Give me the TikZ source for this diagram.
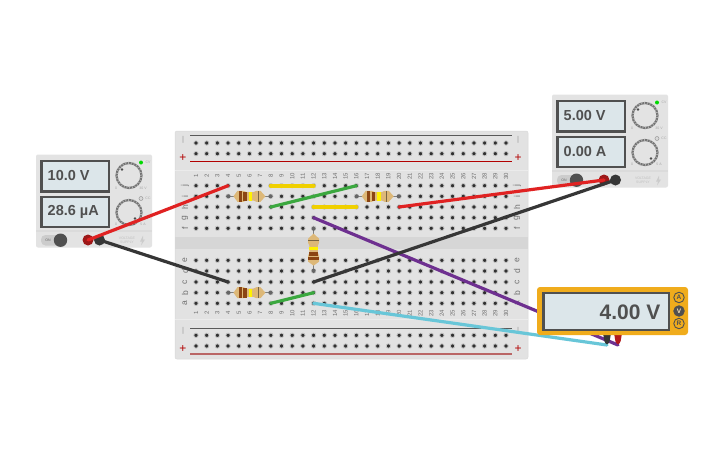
\documentclass[tikz,border=0pt]{standalone}
\usepackage{fontspec}
\setmainfont{Liberation Sans}
\usetikzlibrary{calc}
\definecolor{boardc}{HTML}{E2E2E2}
\definecolor{bandc}{HTML}{D6D6D6}
\definecolor{holec}{HTML}{303030}
\definecolor{labelc}{HTML}{707070}
\definecolor{psuc}{HTML}{E3E3E3}
\definecolor{lcdc}{HTML}{DCE6EA}
\definecolor{lcdb}{HTML}{505050}
\definecolor{wred}{HTML}{E02222}
\definecolor{wblack}{HTML}{363636}
\definecolor{wgreen}{HTML}{3BA83F}
\definecolor{wyellow}{HTML}{F0D000}
\definecolor{wpurple}{HTML}{6E3090}
\definecolor{wcyan}{HTML}{68C6D8}
\definecolor{orng}{HTML}{F0AC1C}
\definecolor{rbody}{HTML}{DDB878}
\definecolor{rbrown}{HTML}{8B4513}
\tikzset{
  x=1pt,y=-1pt,
  wire/.style={line width=3.2pt,line cap=round},
  lcd/.style={draw=lcdb,fill=lcdc,line width=2.6pt},
  lcdtext/.style={font=\fontsize{14.5}{15}\selectfont\bfseries,text=lcdb,inner sep=0pt},
  tiny/.style={font=\fontsize{3.5}{4}\selectfont,text=black!35,inner sep=0pt},
  collab/.style={font=\fontsize{6}{6}\selectfont,text=labelc,rotate=90,inner sep=0pt},
  rowlab/.style={font=\fontsize{8.5}{8}\selectfont,text=labelc,rotate=90,inner sep=0pt},
  pm/.style={font=\fontsize{12}{12}\selectfont,inner sep=0pt},
  hole/.style={fill=holec,draw=black!22,line width=0.8pt},
  knob/.style={fill=black!11,draw=black!55,line width=2.2pt},
  ticks/.style={draw=black!30,line width=2.2pt,dash pattern=on 0.8pt off 2pt},
  meterbtn/.style={circle,draw=lcdb,line width=0.9pt,minimum size=10.5pt,inner sep=0pt,font=\fontsize{6.5}{6}\selectfont\bfseries,text=lcdb},
  pics/resistor/.style={code={
    \draw[black!50,line width=1.5pt] (-21,0) -- (21,0);
    \fill[black!60] (-21,0) circle (2pt) (21,0) circle (2pt);
    \fill[rbody] (-16,0) -- (-12,-5.5) -- (-6,-5.5) -- (-3,-4.2) -- (4,-4.2) -- (7,-5.5) -- (11,-5.5) -- (16,0) -- (11,5.5) -- (7,5.5) -- (4,4.2) -- (-3,4.2) -- (-6,5.5) -- (-12,5.5) -- cycle;
    \fill[rbrown] (-10.8,-5.5) rectangle (-7.8,5.5);
    \fill[rbrown] (-6,-4.8) rectangle (-2.8,4.8);
    \fill[yellow] (-0.5,-4.2) rectangle (3,4.2);
    \fill[black!45!rbody] (8.2,-5.5) rectangle (9.2,5.5);
  }},
  pics/psu/.style 2 args={code={
    \fill[psuc,rounded corners=2pt] (0,0) rectangle (116,93);
    \fill[black!14] (0,75.5) rectangle (116,77);
    \draw[lcd] (5.5,6.5) rectangle (73,37);
    \draw[lcd] (5.5,42.5) rectangle (73,72.5);
    \node[lcdtext,anchor=west] at (11.5,21.5) {#1};
    \node[lcdtext,anchor=west] at (11.5,57.5) {#2};
    \draw[knob] (93,21) circle (12.5pt);
    \draw[knob] (93,58) circle (12.5pt);
    \draw[ticks] (93,21) circle (12.5pt);
    \draw[ticks] (93,58) circle (12.5pt);
    \fill[black!70] (86,15) circle (1.4pt) (99,64) circle (1.4pt);
    \fill[green!85!black] (105,8) circle (2pt);
    \draw[black!40,fill=black!15,line width=0.5pt] (105,44) circle (2pt);
    \node[tiny] at (112,8) {CV};
    \node[tiny] at (112,44) {CC};
    \node[tiny] at (80,33.5) {0};
    \node[tiny] at (107,33.5) {30 V};
    \node[tiny] at (80,70) {0};
    \node[tiny] at (107,70) {5 A};
    \fill[black!20,rounded corners=4.5pt] (5,80.5) rectangle (30,91);
    \node[tiny,text=black!60] at (12,86) {ON};
    \fill[lcdb] (24.5,85.7) circle (6.7pt);
    \node[circle,fill=wred!70!black,minimum size=11pt,inner sep=0pt] (red) at (52,85.5) {};
    \node[circle,fill=wblack,minimum size=11pt,inner sep=0pt] (blk) at (63.5,85.5) {};
    \node[tiny,text=black!25,align=center] at (91,86) {VOLTAGE\\SUPPLY};
    \fill[black!20] (107,81) -- (104,87) -- (106,87) -- (105,91) -- (109,85) -- (107,85) -- cycle;
  }}
}
\begin{document}
\begin{tikzpicture}
\useasboundingbox (0,0) rectangle (725,453);
\fill[white] (0,0) rectangle (725,453);
% board
\fill[boardc,rounded corners=2pt,draw=black!15,line width=0.5pt] (175,131) rectangle (528,359);
\fill[bandc] (175.3,236.5) rectangle (527.7,249);
\fill[black!8] (175.3,169.5) rectangle (527.7,171);
\fill[black!8] (175.3,318.5) rectangle (527.7,320);
% rail lines
\draw[black!65,line width=1pt] (190,135.5) -- (512,135.5);
\draw[red!70!black,line width=1pt] (190,161) -- (512,161);
\draw[black!65,line width=1pt] (190,328) -- (512,328);
\draw[red!55!black!60,line width=1.4pt] (190,354) -- (512,354);
\foreach \xx in {183,518}{
  \node[pm,text=black!50,rotate=90] (m1\xx) at (\xx,140) {$-$};
  \node[pm,text=red!70!black] (p1\xx) at (\xx,158) {+};
  \node[pm,text=black!50,rotate=90] (m2\xx) at (\xx,331) {$-$};
  \node[pm,text=red!70!black] (p2\xx) at (\xx,349) {+};
}
% holes
\foreach \n [evaluate=\n as \x using 196+(\n-1)*10.69] in {1,...,30}{
  \foreach \y in {143,153.7,335.3,346}{
    \path[hole] (\x,\y) circle (2.2pt);
  }
  \foreach \r/\y in {j/185.7,i/196.3,h/207,g/217.7,f/228.3,e/260.3,d/271,c/282,b/292.7,a/303.3}{
    \coordinate (\r\n) at (\x,\y);
    \path[hole] (\r\n) circle (2.2pt);
  }
  \node[collab] (tl\n) at (\x,176) {\n};
  \node[collab] (bl\n) at (\x,313) {\n};
}
\foreach \r/\y in {j/185.7,i/196.3,h/207,g/217.7,f/228.3,e/260.3,d/271,c/282,b/292.7,a/303.3}{
  \node[rowlab] (ll\r) at (185,\y) {\r};
  \node[rowlab] (rl\r) at (517,\y) {\r};
}
% resistors
\pic at ($(i4)!0.5!(i8)$) {resistor};
\pic at ($(i16)!0.5!(i20)$) {resistor};
\pic at ($(b4)!0.5!(b8)$) {resistor};
\pic[rotate=90] at ($(f12)!0.5!(d12)$) {resistor};
% power supplies
\pic (L) at (36,154.5) {psu={10.0 V}{28.6 µA}};
\pic (R) at (552,94.5) {psu={5.00 V}{0.00 A}};
% probe ends
\coordinate (pblack) at (607,345);
\coordinate (pred) at (618,345);
% wires
\draw[wire,wyellow,line width=4pt] (j8) -- (j12);
\draw[wire,wyellow,line width=4pt] (h12) -- (h16);
\draw[wire,wgreen] (h8) -- (j16);
\draw[wire,wgreen] (a8) -- (b12);
\draw[wire,wpurple] (g12) -- (pred);
\draw[wire,wcyan] (a12) -- (pblack);
\draw[wire,wblack] (Lblk.center) -- (c4);
\draw[wire,wblack] (c12) -- (Rblk.center);
\draw[wire,wred] (Lred.center) -- (j4);
\draw[wire,wred] (h20) -- (Rred.center);
% multimeter
\fill[wblack,rounded corners=1pt] (603,333) -- (611,333) -- (609.5,342) -- (607,345) -- (604.5,342) -- cycle;
\fill[wred!80!black,rounded corners=1pt] (614,333) -- (622,333) -- (620.5,342) -- (618,345) -- (615.5,342) -- cycle;
\fill[orng,rounded corners=3pt] (537,287) rectangle (688,335);
\draw[lcd] (543.5,293) rectangle (669,330);
\node[font=\fontsize{21}{22}\selectfont\bfseries,text=lcdb,inner sep=0pt,anchor=east] (mtext) at (660.5,312) {4.00 V};
\node[meterbtn] (bA) at (679,297.5) {A};
\node[meterbtn,fill=lcdb,text=orng!30] (bV) at (679,311) {V};
\node[meterbtn] (bR) at (679,323.5) {R};
\end{tikzpicture}
\end{document}
